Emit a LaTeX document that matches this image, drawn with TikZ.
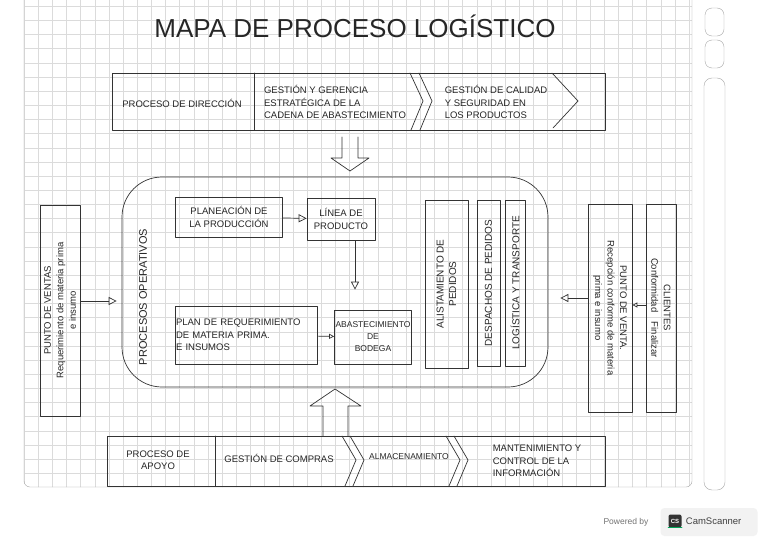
\documentclass[tikz,border=0pt]{standalone}
\usepackage{fontspec}
\setmainfont{Liberation Sans}
\usetikzlibrary{arrows.meta,positioning}

\begin{document}
\begin{tikzpicture}[line join=round, line cap=round, >=stealth, x=1pt, y=-1pt]
	\tikzset{every node/.style={font=\fontsize{9.5}{12.5}\selectfont, text=black!85, inner sep=1pt},
		tinta/.style={draw=black!80, line width=0.7pt},
		caja/.style={tinta, align=center},
		caja rot/.style={caja, rotate=90},
		caja rotd/.style={caja, rotate=-90},
		letra v/.style={font=\fontsize{10}{12.5}\selectfont},
		tri/.style={tinta, -{Triangle[open,length=8pt,width=8pt]}},
		tri chica/.style={tinta, -{Triangle[open,length=5pt,width=5pt]}}}
	\useasboundingbox (0,0) rectangle (768,543);
	\fill[white] (0,0) rectangle (768,543);
	% hoja cuadriculada
	\begin{scope}
		\clip[rounded corners=6pt] (24,-5) -- (24,487) -- (692,487) -- (692,-5) -- cycle;
		\foreach \i in {0,...,47}
		\draw[black!14, line width=0.4pt] (24+14.15*\i,-5) -- (24+14.15*\i,487);
		\foreach \j in {0,...,33}
		\draw[black!14, line width=0.4pt] (24,6.25+14.15*\j) -- (692,6.25+14.15*\j);
	\end{scope}
	\draw[black!35, rounded corners=6pt] (24,-5) -- (24,487) -- (692,487) -- (692,-5);
	\foreach \a/\b in {8/36,40/68}
	\draw[black!35, rounded corners=7pt] (705,\a) rectangle (724,\b);
	\draw[black!35, rounded corners=8pt] (704,78) rectangle (725,490);

	\node[font=\fontsize{26}{30}\selectfont] (titulo) at (355,26) {MAPA DE PROCESO LOGÍSTICO};

	% procesos de direccion
	\node[caja, minimum width=493, minimum height=57, anchor=north west] (barraDir) at (112,73) {};
	\draw[tinta] (254,73) -- (254,130);
	\foreach \dx in {0,9}
	\draw[tinta] (410+\dx,73) -- (423+\dx,101) -- (411+\dx,130);
	\draw[tinta] (552,73) -- (578,101) -- (553,128);
	\node (direccion) at (182,103) {PROCESO DE DIRECCIÓN};
	\node[align=left] (gerencia) at (335,102) {GESTIÓN Y GERENCIA\\ESTRATÉGICA DE LA\\CADENA DE ABASTECIMIENTO};
	\node[align=left] (calidad) at (496,102) {GESTIÓN DE CALIDAD\\Y SEGURIDAD EN\\LOS PRODUCTOS};
	\draw[tinta] (342,137) -- (342,158) -- (331,158) -- (350,171) -- (369,158) -- (358,158) -- (358,137);

	% procesos operativos
	\node[caja, rounded corners=40pt, minimum width=426, minimum height=210] (ops) at (335,282) {};
	\node[rotate=90, font=\fontsize{11}{13}\selectfont] (opsTxt) at (143,297) {PROCESOS OPERATIVOS};
	\node[caja, minimum width=107, minimum height=40] (planea) at (229,217) {PLANEACIÓN DE\\LA PRODUCCIÓN};
	\node[caja, minimum width=68, minimum height=42] (linea) at (341,219) {LÍNEA DE\\PRODUCTO};
	\node[caja, text width=140, align=left, minimum height=58] (planreq) at (246,335) {PLAN DE REQUERIMIENTO\\DE MATERIA PRIMA.\\E INSUMOS};
	\node[caja, minimum width=77, minimum height=54, font=\fontsize{8.5}{12}\selectfont] (abast) at (373,337) {ABASTECIMIENTO\\DE\\BODEGA};
	\node[caja rot, letra v, minimum width=168, minimum height=43] (alist) at (446.5,284) {ALISTAMIENTO DE\\PEDIDOS};
	\node[caja rot, letra v, minimum width=166, minimum height=23] (desp) at (488.5,283) {DESPACHOS DE PEDIDOS};
	\node[caja rot, letra v, minimum width=166, minimum height=20] (logis) at (515,283) {LOGÍSTICA Y TRANSPORTE};
	\draw[tri] (planea) -- (linea);
	\draw[tri] ([xshift=14pt]linea.south) -- ([xshift=-18pt,yshift=20pt]abast.north);
	\draw[tri chica] (planreq) -- (abast);

	% puntos de venta y clientes
	\node[caja rot, minimum width=211, minimum height=40] (pvl) at (60,310.5) {PUNTO DE VENTAS\\Requerimiento de materia prima\\e insumo};
	\node[caja rotd, minimum width=208, minimum height=44] (pvr) at (610,308) {PUNTO DE VENTA.\\Recepción conforme de materia\\prima e insumo};
	\node[caja rotd, minimum width=208, minimum height=30] (clien) at (661,308) {CLIENTES\\Conformidad\quad Finalizar};
	\coordinate (flechaL) at (0,301);
	\coordinate (flechaR) at (0,298);
	\coordinate (flechaC) at (0,305);
	\draw[tri, shorten >=5pt] (pvl.south |- flechaL) -- (ops.west |- flechaL);
	\draw[tri, shorten >=12pt] (pvr.south |- flechaR) -- (ops.east |- flechaR);
	\draw[tri chica] (clien.south |- flechaC) -- (pvr.north |- flechaC);

	% procesos de apoyo
	\node[caja, minimum width=498, minimum height=50, anchor=north west] (barraApoyo) at (107,436) {};
	\draw[tinta] (215,436) -- (215,486);
	\foreach \cx in {342,446}
	\foreach \dx in {0,8}
	\draw[tinta] (\cx+\dx,436) -- (\cx+14+\dx,460) -- (\cx+3+\dx,486);
	\node[align=center] (apoyo) at (158,460) {PROCESO DE\\APOYO};
	\node (compras) at (279,458) {GESTIÓN DE COMPRAS};
	\node[font=\fontsize{8.5}{11}\selectfont] (almacen) at (409,457) {ALMACENAMIENTO};
	\node[align=left] (mant) at (537,461) {MANTENIMIENTO Y\\CONTROL DE LA\\INFORMACIÓN};
	\draw[tinta] (323,436) -- (323,406) -- (310,406) -- (335,389) -- (361,406) -- (348,406) -- (348,436);

	% marca del escaner
	\node[text=black!55, font=\fontsize{8.5}{10}\selectfont] (powered) at (626,522) {Powered by};
	\node[fill=black!5, rounded corners=4pt, minimum width=97, minimum height=28] (csfondo) at (709,522) {};
	\node[fill=black!80, rounded corners=2pt, text=white, font=\bfseries\fontsize{6}{6}\selectfont, minimum size=13pt, inner sep=0pt] (cslogo) at (675,521) {CS};
	\draw[teal!70!green, line width=1.2pt] (cslogo.south west) -- (cslogo.south east);
	\node[font=\fontsize{9.5}{11}\selectfont, text=black!75, right=3pt of cslogo] (csnombre) {CamScanner};
\end{tikzpicture}
\end{document}
